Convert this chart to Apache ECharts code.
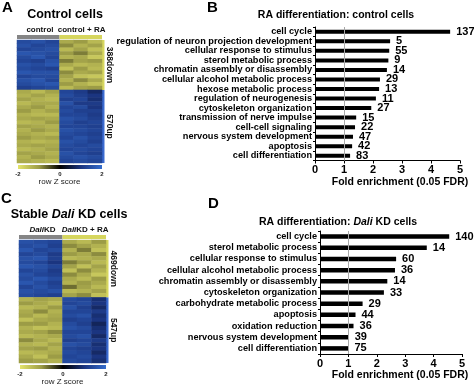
<!DOCTYPE html>
<html><head><meta charset="utf-8">
<script src="https://cdn.jsdelivr.net/npm/echarts@6/dist/echarts.min.js"></script>
<style>html,body{margin:0;padding:0;background:#fff}#c{width:474px;height:384px}</style>
</head><body><div id="c"></div>
<script>
// ---------- Data ----------
const termsB = ['cell cycle','regulation of neuron projection development','cellular response to stimulus','sterol metabolic process','chromatin assembly or disassembly','cellular alcohol metabolic process','hexose metabolic process','regulation of neurogenesis','cytoskeleton organization','transmission of nerve impulse','cell-cell signaling','nervous system development','apoptosis','cell differentiation'];
const foldB = [4.66,2.59,2.56,2.53,2.48,2.24,2.21,2.10,1.94,1.42,1.38,1.31,1.28,1.21];
const countB = [137,5,55,9,14,29,13,11,27,15,22,47,42,83];

const termsD = ['cell cycle','sterol metabolic process','cellular response to stimulus','cellular alcohol metabolic process','chromatin assembly or disassembly','cytoskeleton organization','carbohydrate metabolic process','apoptosis','oxidation reduction','nervous system development','cell differentiation'];
const foldD = [4.55,3.76,2.68,2.64,2.37,2.25,1.50,1.25,1.18,1.01,1.00];
const countD = [140,14,60,36,14,33,29,44,36,39,75];

const xTicks = [0,1,2,3,4,5];
const zTicks = ['-2','0','2'];

// heatmap rows: [ctrl1, ctrl2, ctrl3, RA1, RA2, RA3] (row Z score)
const heatA_down = [
 [1.4,1.5,1.3,-1.2,-1.0,-1.4],[1.5,1.3,1.4,-0.9,-1.3,-1.1],[1.3,1.4,1.5,-1.4,-1.1,-1.5],
 [1.6,1.5,1.4,-1.0,-0.8,-1.2],[1.4,1.6,1.3,-1.3,-1.2,-1.6],[1.3,1.2,1.5,-0.8,-1.1,-1.0],
 [1.5,1.4,1.6,-1.2,-1.4,-1.3],[1.4,1.3,1.2,-1.5,-1.0,-1.4],[1.6,1.5,1.5,-0.9,-1.2,-1.1],
 [1.3,1.4,1.4,-1.1,-1.5,-1.6],[1.5,1.6,1.3,-1.3,-0.9,-1.2],[1.4,1.5,1.6,-1.0,-1.3,-1.5],
 [1.2,1.3,1.4,-1.4,-1.1,-1.0]];
const heatA_up = [
 [-1.2,-1.4,-1.1,1.3,1.1,0.8],[-1.3,-1.1,-1.3,1.4,1.2,1.0],[-1.1,-1.3,-1.4,1.2,1.3,0.9],
 [-1.4,-1.2,-1.2,1.5,1.1,1.1],[-1.2,-1.0,-1.3,1.3,1.4,1.0],[-1.0,-1.3,-1.1,1.4,1.2,1.2],
 [-1.3,-1.4,-1.4,1.3,1.3,1.1],[-1.2,-1.1,-1.2,1.5,1.4,1.2],[-1.4,-1.3,-1.0,1.4,1.2,1.3],
 [-1.1,-1.2,-1.3,1.3,1.3,1.2],[-1.3,-1.0,-1.2,1.5,1.4,1.3],[-1.2,-1.3,-1.4,1.4,1.3,1.2],
 [-1.0,-1.2,-1.1,1.3,1.5,1.3],[-1.3,-1.4,-1.3,1.5,1.4,1.2],[-1.2,-1.1,-1.2,1.4,1.3,1.4],
 [-1.4,-1.3,-1.1,1.3,1.4,1.3],[-1.1,-1.2,-1.3,1.5,1.3,1.2],[-1.3,-1.0,-1.2,1.4,1.5,1.4],
 [-1.2,-1.3,-1.4,1.3,1.4,1.3]];
const heatC_down = [
 [1.5,1.4,1.3,-1.2,-1.4,-1.0],[1.4,1.5,1.2,-0.9,-1.1,-1.3],[1.6,1.3,1.4,-1.3,-0.8,-1.5],
 [1.3,1.4,1.1,-1.0,-1.2,-0.9],[1.5,1.6,1.2,-1.4,-1.3,-1.2],[1.4,1.3,1.0,-0.8,-1.0,-1.4],
 [1.6,1.5,1.3,-1.1,-1.5,-1.1],[1.3,1.4,1.1,-1.5,-0.9,-1.3],[1.5,1.3,1.2,-0.9,-1.2,-1.6],
 [1.4,1.6,1.4,-1.2,-1.4,-1.0],[1.6,1.4,1.2,-1.3,-1.0,-1.2],[1.3,1.5,1.3,-0.7,-1.1,-1.4],
 [1.5,1.4,1.5,-1.4,-1.3,-1.1],[1.4,1.3,1.2,-1.1,-0.9,-1.5]];
const heatC_up = [
 [-1.3,-1.1,-1.2,1.4,1.3,0.9],[-1.0,-1.2,-1.4,1.3,1.4,1.0],[-1.4,-1.3,-1.0,1.5,1.2,0.8],
 [-1.2,-0.9,-1.3,1.3,1.3,1.1],[-1.1,-1.4,-1.2,1.4,1.5,0.9],[-1.5,-1.2,-1.1,1.2,1.3,1.0],
 [-1.0,-1.0,-1.3,1.4,1.2,0.7],[-1.3,-1.5,-1.4,1.5,1.4,0.9],[-1.2,-1.1,-0.9,1.3,1.3,1.0],
 [-1.4,-1.3,-1.2,1.4,1.5,0.8],[-0.9,-1.2,-1.4,1.2,1.3,1.1],[-1.3,-1.4,-1.1,1.5,1.4,0.9],
 [-1.1,-1.0,-1.3,1.3,1.2,1.0],[-1.4,-1.3,-1.2,1.4,1.3,0.8],[-1.2,-1.5,-1.0,1.3,1.4,1.0],
 [-1.0,-1.1,-1.3,1.4,1.3,0.9]];

// ---------- Style / layout ----------
const FONT = 'Liberation Sans, Arial, sans-serif';
const zColors = ['#e4e46a','#9c9c46','#000000','#1b3580','#346ccc'];
const GA = {left:17, top:40, width:85, height:123};
const GB = {left:315, top:27, width:145, height:133.5};
const GC = {left:19, top:240, width:87, height:123};
const GD = {left:320, top:231, width:142, height:123};

function heatData(down, up){
  const rows = down.concat(up), out = [];
  rows.forEach((r, i) => r.forEach((v, j) => out.push([j, i, v])));
  return {rows: rows.length, data: out};
}
const hA = heatData(heatA_down, heatA_up);
const hC = heatData(heatC_down, heatC_up);
const idx = n => Array.from({length:n}, (_, i) => String(i));

function barAxes(gi, terms){
  return {
    x: {type:'value', gridIndex:gi, min:0, max:5, interval:1,
        axisLine:{show:true, lineStyle:{color:'#000', width:1}},
        axisTick:{show:true, length:3, lineStyle:{color:'#000'}},
        splitLine:{show:false},
        axisLabel:{color:'#000', fontFamily:FONT, fontWeight:'bold', fontSize:11, margin:4}},
    y: {type:'category', gridIndex:gi, data:terms, inverse:true,
        axisLine:{show:true, lineStyle:{color:'#000', width:1}},
        axisTick:{show:true, length:2, interval:0, lineStyle:{color:'#000'}},
        axisLabel:{interval:0, color:'#000', fontFamily:FONT, fontWeight:'bold', fontSize:9.2, margin:3}}
  };
}
const axB = barAxes(1, termsB), axD = barAxes(3, termsD);

function barSeries(ax, vals, counts, bw){
  return {type:'bar', xAxisIndex:ax, yAxisIndex:ax, data:vals, barWidth:bw,
    itemStyle:{color:'#000'}, silent:true,
    label:{show:true, position:'right', distance:6, color:'#000', fontFamily:FONT,
      fontWeight:'bold', fontSize:11, formatter:p => counts[p.dataIndex]},
    labelLayout:{hideOverlap:false},
    markLine:{silent:true, symbol:'none', label:{show:false},
      lineStyle:{color:'#a8a8a8', width:1, type:'solid'}, data:[{xAxis:1}]},
    z:3};
}

function heatDecor(G, nDown, nTot, lab1, lab2, down, up){
  const split = G.top + G.height * nDown / nTot;
  const midX = G.left + G.width / 2;
  const right = G.left + G.width;
  const els = [];
  els.push({type:'rect', shape:{x:G.left, y:G.top-5, width:G.width/2, height:4}, style:{fill:'#858585'}});
  els.push({type:'rect', shape:{x:midX, y:G.top-5, width:G.width/2, height:4}, style:{fill:'#d6d65e'}});
  els.push({type:'rect', shape:{x:right, y:G.top, width:2.5, height:split-G.top}, style:{fill:'#d6d65e'}});
  els.push({type:'rect', shape:{x:right, y:split, width:2.5, height:G.top+G.height-split}, style:{fill:'#3a6ad0'}});
  const rich = {b:{fontFamily:FONT, fontWeight:'bold', fontSize:8, fill:'#111'},
                i:{fontFamily:FONT, fontWeight:'bold', fontStyle:'italic', fontSize:8, fill:'#111'}};
  els.push({type:'text', x:G.left + G.width*0.27, y:G.top-10, style:{text:lab1, rich, align:'center', verticalAlign:'middle'}});
  els.push({type:'text', x:G.left + G.width*0.76, y:G.top-10, style:{text:lab2, rich, align:'center', verticalAlign:'middle'}});
  const tf = {fontFamily:FONT, fontWeight:'bold', fontSize:8.5, fill:'#111'};
  els.push({type:'text', x:right+7, y:(G.top+split)/2, rotation:-Math.PI/2,
    style:Object.assign({text:down, align:'center', verticalAlign:'middle'}, tf)});
  els.push({type:'text', x:right+7, y:(split+G.top+G.height)/2, rotation:-Math.PI/2,
    style:Object.assign({text:up, align:'center', verticalAlign:'middle'}, tf)});
  // colour key
  const cy = G.top + G.height + 2;
  els.push({type:'rect', shape:{x:G.left+1, y:cy, width:G.width-1, height:4},
    style:{fill:new echarts.graphic.LinearGradient(0,0,1,0,
      zColors.map((c,k)=>({offset:k/(zColors.length-1), color:c})))}});
  zTicks.forEach((t,k)=>{
    els.push({type:'text', x:G.left+1+(G.width-1)*k/2, y:cy+9,
      style:{text:t, fontFamily:FONT, fontWeight:'bold', fontSize:6, fill:'#222', align:'center', verticalAlign:'middle'}});
  });
  els.push({type:'text', x:G.left+G.width/2, y:cy+17,
    style:{text:'row Z score', fontFamily:FONT, fontSize:8, fill:'#222', align:'center', verticalAlign:'middle'}});
  return els;
}

const bigT = {fontFamily:FONT, fontWeight:'bold', fontSize:15, fill:'#000'};
const graphics = [
  {type:'text', x:2, y:0, style:Object.assign({text:'A'}, bigT)},
  {type:'text', x:207, y:0, style:Object.assign({text:'B'}, bigT)},
  {type:'text', x:1, y:191, style:Object.assign({text:'C'}, bigT)},
  {type:'text', x:208, y:196, style:Object.assign({text:'D'}, bigT)},
  {type:'text', x:65, y:15, style:{text:'Control cells', fontFamily:FONT, fontWeight:'bold', fontSize:12.5, fill:'#000', align:'center', verticalAlign:'middle'}},
  {type:'text', x:69, y:215, style:{text:'{b|Stable }{i|Dali}{b| KD cells}', align:'center', verticalAlign:'middle',
     rich:{b:{fontFamily:FONT, fontWeight:'bold', fontSize:12.5, fill:'#000'}, i:{fontFamily:FONT, fontWeight:'bold', fontStyle:'italic', fontSize:12.5, fill:'#000'}}}},
  {type:'text', x:336, y:15, style:{text:'RA differentiation: control cells', fontFamily:FONT, fontWeight:'bold', fontSize:10.5, fill:'#000', align:'center', verticalAlign:'middle'}},
  {type:'text', x:338, y:222, style:{text:'{b|RA differentiation: }{i|Dali}{b| KD cells}', align:'center', verticalAlign:'middle',
     rich:{b:{fontFamily:FONT, fontWeight:'bold', fontSize:10.5, fill:'#000'}, i:{fontFamily:FONT, fontWeight:'bold', fontStyle:'italic', fontSize:10.5, fill:'#000'}}}},
  {type:'text', x:400, y:182, style:{text:'Fold enrichment (0.05 FDR)', fontFamily:FONT, fontWeight:'bold', fontSize:10.5, fill:'#000', align:'center', verticalAlign:'middle'}},
  {type:'text', x:400, y:375, style:{text:'Fold enrichment (0.05 FDR)', fontFamily:FONT, fontWeight:'bold', fontSize:10.5, fill:'#000', align:'center', verticalAlign:'middle'}}
].concat(
  heatDecor(GA, heatA_down.length, hA.rows, '{b|control}', '{b|control + RA}', '388down', '570up'),
  heatDecor(GC, heatC_down.length, hC.rows, '{i|Dali}{b|KD}', '{i|Dali}{b|KD + RA}', '469down', '547up')
);

const chart = echarts.init(document.getElementById('c'), null, {renderer:'canvas'});
chart.setOption({
  animation:false,
  backgroundColor:'#fff',
  grid:[GA, GB, GC, GD].map(g => Object.assign({containLabel:false}, g)),
  xAxis:[
    {type:'category', gridIndex:0, data:idx(6), show:false},
    axB.x,
    {type:'category', gridIndex:2, data:idx(6), show:false},
    axD.x
  ],
  yAxis:[
    {type:'category', gridIndex:0, data:idx(hA.rows), inverse:true, show:false},
    axB.y,
    {type:'category', gridIndex:2, data:idx(hC.rows), inverse:true, show:false},
    axD.y
  ],
  visualMap:{show:false, type:'continuous', min:-2, max:2, seriesIndex:[0,2], inRange:{color:zColors}},
  series:[
    {type:'heatmap', xAxisIndex:0, yAxisIndex:0, data:hA.data, silent:true, itemStyle:{borderWidth:0}},
    barSeries(1, foldB, countB, 4),
    {type:'heatmap', xAxisIndex:2, yAxisIndex:2, data:hC.data, silent:true, itemStyle:{borderWidth:0}},
    barSeries(3, foldD, countD, 4.5)
  ],
  graphic:graphics
});
</script>
</body></html>
